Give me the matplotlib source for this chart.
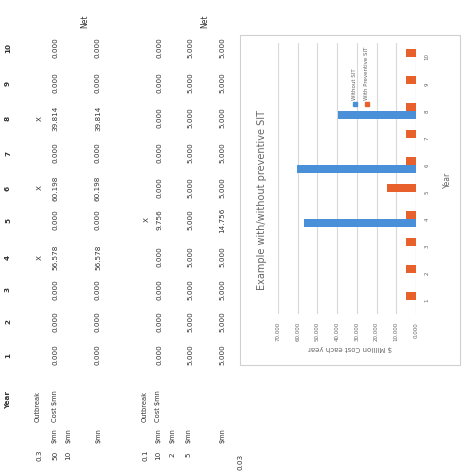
import matplotlib
matplotlib.use("Agg")
import matplotlib.pyplot as plt
from matplotlib.patches import Rectangle
import numpy as np

years = list(range(1, 11))
without_sit = [0.000, 0.000, 0.000, 56.578, 0.000, 60.198, 0.000, 39.814, 0.000, 0.000]
outbreak_sit = [0.000, 0.000, 0.000, 0.000, 9.756, 0.000, 0.000, 0.000, 0.000, 0.000]
sit_cost = [5.000] * 10
with_sit = [a + b for a, b in zip(outbreak_sit, sit_cost)]
x_ticks = [0, 10, 20, 30, 40, 50, 60, 70]

W = H = 474
fig = plt.figure(figsize=(4.74, 4.74), dpi=100)


def px(x, y):
    return x / W, 1 - y / H


def t(x, y, s, size=5.2, bold=False, color="#333333", **kw):
    fx, fy = px(x, y)
    fig.text(fx, fy, s, rotation=90, ha="center", va="center", fontsize=size,
             fontweight="bold" if bold else "normal", color=color, **kw)


# --- table (rotated spreadsheet) ---
year_y = [355, 322, 290, 257, 220, 188, 153, 118, 83, 48]
t(8, 400, "Year", bold=True)
for yy, yv in zip(year_y, years):
    t(8, yy, str(yv), bold=True)

t(38, 406, "Outbreak", size=4.8)
t(55, 406, "Cost $mn", size=4.8)
t(145, 406, "Outbreak", size=4.8)
t(158, 406, "Cost $mn", size=4.8)
for i, yy in enumerate(year_y):
    if without_sit[i] > 0:
        t(40, yy, "X")
    if outbreak_sit[i] > 0:
        t(147, yy, "X")
    t(55, yy, f"{without_sit[i]:.3f}")
    t(98, yy, f"{without_sit[i]:.3f}")
    t(160, yy, f"{outbreak_sit[i]:.3f}")
    t(190, yy, f"{sit_cost[i]:.3f}")
    t(222, yy, f"{with_sit[i]:.3f}")

for x, lab, unit in [(40, "0.3", None), (55, "50", "$mn"), (68, "10", "$mn"),
                     (98, None, "$mn"), (145, "0.1", None), (158, "10", "$mn"),
                     (172, "2", "$mn"), (188, "5", "$mn"), (222, None, "$mn")]:
    if lab:
        t(x, 455, lab)
    if unit:
        t(x, 436, unit, size=4.8)
t(240, 462, "0.03")
for x in (85, 205):
    fx, fy = px(x, 28)
    fig.text(fx, fy, "Net", rotation=90, ha="center", va="bottom",
             fontsize=5.5, color="#333333")

# --- chart box ---
bx0, by0 = px(240, 365)
bx1, by1 = px(460, 35)
fig.patches.append(Rectangle((bx0, by0), bx1 - bx0, by1 - by0,
                             transform=fig.transFigure, fill=False,
                             edgecolor="#d0d0d0", linewidth=0.8))

ax = fig.add_axes([278 / W, 1 - 313.5 / H, (416 - 278) / W, (313.5 - 43.5) / H])
y = np.array(years)
h = 0.28
ax.barh(y - 0.15, without_sit, height=h, color="#4a90d9", zorder=3)
ax.barh(y + 0.15, with_sit, height=h, color="#e8602c", zorder=3)
ax.set_xlim(70, 0)
ax.set_ylim(0.5, 10.5)
ax.set_xticks(x_ticks)
ax.set_xticklabels([f"{v:.3f}" for v in x_ticks], rotation=90, fontsize=4,
                   color="#666666")
ax.yaxis.tick_right()
ax.set_yticks(years)
ax.set_yticklabels([str(v) for v in years], rotation=90, fontsize=4,
                   color="#666666", va="center")
ax.tick_params(length=0, pad=6)
ax.grid(axis="x", color="#d9d9d9", linewidth=0.8, zorder=0)
for s in ax.spines.values():
    s.set_visible(False)
ax.axvline(0, color="#d9d9d9", linewidth=0.8)

fx, fy = px(350, 348)
fig.text(fx, fy, "$ Million Cost each year", rotation=180, ha="center",
         va="center", fontsize=5, color="#666666")
fx, fy = px(447, 180)
fig.text(fx, fy, "Year", rotation=90, ha="center", va="center", fontsize=5.5,
         color="#666666")
fx, fy = px(262, 200)
fig.text(fx, fy, "Example with/without preventive SIT", rotation=90,
         ha="center", va="center", fontsize=7, color="#666666")

# legend
for x, col, lab in [(355, "#4a90d9", "Without SIT"), (367, "#e8602c", "With Preventive SIT")]:
    fx, fy = px(x - 2, 106)
    fig.patches.append(Rectangle((fx, fy), 4 / W, 4 / H, transform=fig.transFigure,
                                 color=col))
    fx, fy = px(x, 100)
    fig.text(fx, fy, lab, rotation=90, ha="center", va="bottom", fontsize=4,
             color="#666666")

fig.savefig("out.png", dpi=100)
